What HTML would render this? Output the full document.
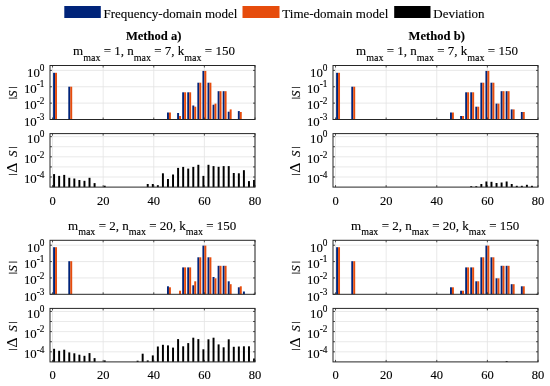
<!DOCTYPE html>
<html><head><meta charset="utf-8"><style>html,body{margin:0;padding:0;background:#fff;overflow:hidden}svg{display:block}</style></head>
<body>
<svg width="550" height="386" viewBox="0 0 550 386" font-family='"Liberation Serif", "DejaVu Serif", serif' fill="#000">
<rect width="550" height="386" fill="#fff"/>
<style>text{stroke:#000;stroke-width:0.12px;paint-order:stroke}</style>
<rect x="64.3" y="6" width="36.5" height="12" fill="#00247a"/>
<text x="103.5" y="17.5" font-size="13">Frequency-domain model</text>
<rect x="242.5" y="6" width="37" height="12" fill="#e64c0c"/>
<text x="282.3" y="17.5" font-size="13">Time-domain model</text>
<rect x="394.2" y="6" width="36.3" height="12" fill="#000"/>
<text x="433.3" y="17.5" font-size="13">Deviation</text>
<text x="153.7" y="40" font-size="12.6" text-anchor="middle" font-weight="bold">Method a)</text>
<text x="154" y="55.2" font-size="13" text-anchor="middle">m<tspan dy="5.3" font-size="10">max</tspan><tspan dy="-5.3"> = 1, n</tspan><tspan dy="5.3" font-size="10">max</tspan><tspan dy="-5.3"> = 7, k</tspan><tspan dy="5.3" font-size="10">max</tspan><tspan dy="-5.3"> = 150</tspan></text>
<line x1="52.53" y1="65.5" x2="52.53" y2="119.5" stroke="#e3e3e3" stroke-width="0.8"/>
<line x1="103.15" y1="65.5" x2="103.15" y2="119.5" stroke="#e3e3e3" stroke-width="0.8"/>
<line x1="153.77" y1="65.5" x2="153.77" y2="119.5" stroke="#e3e3e3" stroke-width="0.8"/>
<line x1="204.38" y1="65.5" x2="204.38" y2="119.5" stroke="#e3e3e3" stroke-width="0.8"/>
<line x1="255" y1="65.5" x2="255" y2="119.5" stroke="#e3e3e3" stroke-width="0.8"/>
<line x1="50" y1="70.42" x2="255" y2="70.42" stroke="#e3e3e3" stroke-width="0.8"/>
<line x1="50" y1="86.78" x2="255" y2="86.78" stroke="#e3e3e3" stroke-width="0.8"/>
<line x1="50" y1="103.14" x2="255" y2="103.14" stroke="#e3e3e3" stroke-width="0.8"/>
<rect x="53.11" y="72.8" width="1.95" height="46.7" fill="#00247a"/>
<rect x="55.06" y="72.8" width="1.95" height="46.7" fill="#e64c0c"/>
<rect x="68.3" y="86.7" width="1.95" height="32.8" fill="#00247a"/>
<rect x="70.25" y="86.7" width="1.95" height="32.8" fill="#e64c0c"/>
<rect x="167" y="112.5" width="1.95" height="7" fill="#00247a"/>
<rect x="168.95" y="112.5" width="1.95" height="7" fill="#e64c0c"/>
<rect x="177.12" y="113" width="1.95" height="6.5" fill="#00247a"/>
<rect x="179.07" y="116" width="1.95" height="3.5" fill="#e64c0c"/>
<rect x="182.19" y="92.3" width="1.95" height="27.2" fill="#00247a"/>
<rect x="184.14" y="92.3" width="1.95" height="27.2" fill="#e64c0c"/>
<rect x="187.25" y="92.3" width="1.95" height="27.2" fill="#00247a"/>
<rect x="189.2" y="92.3" width="1.95" height="27.2" fill="#e64c0c"/>
<rect x="192.31" y="105.5" width="1.95" height="14" fill="#00247a"/>
<rect x="194.26" y="106.7" width="1.95" height="12.8" fill="#e64c0c"/>
<rect x="197.37" y="82.7" width="1.95" height="36.8" fill="#00247a"/>
<rect x="199.32" y="82.7" width="1.95" height="36.8" fill="#e64c0c"/>
<rect x="202.43" y="70.9" width="1.95" height="48.6" fill="#00247a"/>
<rect x="204.38" y="70.9" width="1.95" height="48.6" fill="#e64c0c"/>
<rect x="207.49" y="82.7" width="1.95" height="36.8" fill="#00247a"/>
<rect x="209.44" y="82.7" width="1.95" height="36.8" fill="#e64c0c"/>
<rect x="212.56" y="104.7" width="1.95" height="14.8" fill="#00247a"/>
<rect x="214.51" y="103.6" width="1.95" height="15.9" fill="#e64c0c"/>
<rect x="217.62" y="91.2" width="1.95" height="28.3" fill="#00247a"/>
<rect x="219.57" y="91.2" width="1.95" height="28.3" fill="#e64c0c"/>
<rect x="222.68" y="91.2" width="1.95" height="28.3" fill="#00247a"/>
<rect x="224.63" y="91.2" width="1.95" height="28.3" fill="#e64c0c"/>
<rect x="227.74" y="111.7" width="1.95" height="7.8" fill="#00247a"/>
<rect x="229.69" y="109.4" width="1.95" height="10.1" fill="#e64c0c"/>
<rect x="237.86" y="111.1" width="1.95" height="8.4" fill="#00247a"/>
<rect x="239.81" y="112" width="1.95" height="7.5" fill="#e64c0c"/>
<rect x="50" y="65.5" width="205" height="54" fill="none" stroke="#262626" stroke-width="1.0"/>
<line x1="52.53" y1="119.5" x2="52.53" y2="117.5" stroke="#262626" stroke-width="0.8"/>
<line x1="52.53" y1="65.5" x2="52.53" y2="67.5" stroke="#262626" stroke-width="0.8"/>
<line x1="103.15" y1="119.5" x2="103.15" y2="117.5" stroke="#262626" stroke-width="0.8"/>
<line x1="103.15" y1="65.5" x2="103.15" y2="67.5" stroke="#262626" stroke-width="0.8"/>
<line x1="153.77" y1="119.5" x2="153.77" y2="117.5" stroke="#262626" stroke-width="0.8"/>
<line x1="153.77" y1="65.5" x2="153.77" y2="67.5" stroke="#262626" stroke-width="0.8"/>
<line x1="204.38" y1="119.5" x2="204.38" y2="117.5" stroke="#262626" stroke-width="0.8"/>
<line x1="204.38" y1="65.5" x2="204.38" y2="67.5" stroke="#262626" stroke-width="0.8"/>
<line x1="255" y1="119.5" x2="255" y2="117.5" stroke="#262626" stroke-width="0.8"/>
<line x1="255" y1="65.5" x2="255" y2="67.5" stroke="#262626" stroke-width="0.8"/>
<line x1="50" y1="70.42" x2="52.0" y2="70.42" stroke="#262626" stroke-width="0.8"/>
<line x1="255" y1="70.42" x2="253.0" y2="70.42" stroke="#262626" stroke-width="0.8"/>
<line x1="50" y1="86.78" x2="52.0" y2="86.78" stroke="#262626" stroke-width="0.8"/>
<line x1="255" y1="86.78" x2="253.0" y2="86.78" stroke="#262626" stroke-width="0.8"/>
<line x1="50" y1="103.14" x2="52.0" y2="103.14" stroke="#262626" stroke-width="0.8"/>
<line x1="255" y1="103.14" x2="253.0" y2="103.14" stroke="#262626" stroke-width="0.8"/>
<line x1="50" y1="119.5" x2="52.0" y2="119.5" stroke="#262626" stroke-width="0.8"/>
<line x1="255" y1="119.5" x2="253.0" y2="119.5" stroke="#262626" stroke-width="0.8"/>
<text x="44.5" y="76.72" font-size="12.8" text-anchor="end">10<tspan dy="-5.6" font-size="9.3">0</tspan></text>
<text x="44.5" y="93.08" font-size="12.8" text-anchor="end">10<tspan dy="-5.6" font-size="9.3">-1</tspan></text>
<text x="44.5" y="109.44" font-size="12.8" text-anchor="end">10<tspan dy="-5.6" font-size="9.3">-2</tspan></text>
<text x="44.5" y="125.8" font-size="12.8" text-anchor="end">10<tspan dy="-5.6" font-size="9.3">-3</tspan></text>
<text transform="translate(17,100) rotate(-90)" x="0.9" y="-2.2" font-size="9" style="stroke-width:0.4px">|</text>
<text transform="translate(17,100) rotate(-90)" x="3.1" y="0" font-size="13" font-style="italic">S</text>
<text transform="translate(17,100) rotate(-90)" x="11.7" y="-2.2" font-size="9" style="stroke-width:0.4px">|</text>
<line x1="52.53" y1="133.6" x2="52.53" y2="187.1" stroke="#e3e3e3" stroke-width="0.8"/>
<line x1="103.15" y1="133.6" x2="103.15" y2="187.1" stroke="#e3e3e3" stroke-width="0.8"/>
<line x1="153.77" y1="133.6" x2="153.77" y2="187.1" stroke="#e3e3e3" stroke-width="0.8"/>
<line x1="204.38" y1="133.6" x2="204.38" y2="187.1" stroke="#e3e3e3" stroke-width="0.8"/>
<line x1="255" y1="133.6" x2="255" y2="187.1" stroke="#e3e3e3" stroke-width="0.8"/>
<line x1="50" y1="136.64" x2="255" y2="136.64" stroke="#e3e3e3" stroke-width="0.8"/>
<line x1="50" y1="146.73" x2="255" y2="146.73" stroke="#e3e3e3" stroke-width="0.8"/>
<line x1="50" y1="156.82" x2="255" y2="156.82" stroke="#e3e3e3" stroke-width="0.8"/>
<line x1="50" y1="166.92" x2="255" y2="166.92" stroke="#e3e3e3" stroke-width="0.8"/>
<line x1="50" y1="177.01" x2="255" y2="177.01" stroke="#e3e3e3" stroke-width="0.8"/>
<rect x="53.11" y="174.1" width="1.95" height="13" fill="#000"/>
<rect x="58.17" y="175.9" width="1.95" height="11.2" fill="#000"/>
<rect x="63.24" y="174.9" width="1.95" height="12.2" fill="#000"/>
<rect x="68.3" y="177.8" width="1.95" height="9.3" fill="#000"/>
<rect x="73.36" y="178.5" width="1.95" height="8.6" fill="#000"/>
<rect x="78.42" y="180" width="1.95" height="7.1" fill="#000"/>
<rect x="83.48" y="180.8" width="1.95" height="6.3" fill="#000"/>
<rect x="88.54" y="177.8" width="1.95" height="9.3" fill="#000"/>
<rect x="93.61" y="183.1" width="1.95" height="4" fill="#000"/>
<rect x="103.73" y="185.7" width="1.95" height="1.4" fill="#000"/>
<rect x="146.75" y="184" width="1.95" height="3.1" fill="#000"/>
<rect x="151.82" y="184" width="1.95" height="3.1" fill="#000"/>
<rect x="156.88" y="185.2" width="1.95" height="1.9" fill="#000"/>
<rect x="161.94" y="173.3" width="1.95" height="13.8" fill="#000"/>
<rect x="167" y="179" width="1.95" height="8.1" fill="#000"/>
<rect x="172.06" y="174.5" width="1.95" height="12.6" fill="#000"/>
<rect x="177.12" y="167.9" width="1.95" height="19.2" fill="#000"/>
<rect x="182.19" y="166.9" width="1.95" height="20.2" fill="#000"/>
<rect x="187.25" y="168.6" width="1.95" height="18.5" fill="#000"/>
<rect x="192.31" y="166.9" width="1.95" height="20.2" fill="#000"/>
<rect x="197.37" y="164.8" width="1.95" height="22.3" fill="#000"/>
<rect x="202.43" y="175.9" width="1.95" height="11.2" fill="#000"/>
<rect x="207.49" y="164.8" width="1.95" height="22.3" fill="#000"/>
<rect x="212.56" y="166.1" width="1.95" height="21" fill="#000"/>
<rect x="217.62" y="166.8" width="1.95" height="20.3" fill="#000"/>
<rect x="222.68" y="166.1" width="1.95" height="21" fill="#000"/>
<rect x="227.74" y="166.1" width="1.95" height="21" fill="#000"/>
<rect x="232.8" y="173" width="1.95" height="14.1" fill="#000"/>
<rect x="237.86" y="173.3" width="1.95" height="13.8" fill="#000"/>
<rect x="242.93" y="170.2" width="1.95" height="16.9" fill="#000"/>
<rect x="247.99" y="181.1" width="1.95" height="6" fill="#000"/>
<rect x="253.05" y="180" width="1.95" height="7.1" fill="#000"/>
<rect x="50" y="133.6" width="205" height="53.5" fill="none" stroke="#262626" stroke-width="1.0"/>
<line x1="52.53" y1="187.1" x2="52.53" y2="185.1" stroke="#262626" stroke-width="0.8"/>
<line x1="52.53" y1="133.6" x2="52.53" y2="135.6" stroke="#262626" stroke-width="0.8"/>
<line x1="103.15" y1="187.1" x2="103.15" y2="185.1" stroke="#262626" stroke-width="0.8"/>
<line x1="103.15" y1="133.6" x2="103.15" y2="135.6" stroke="#262626" stroke-width="0.8"/>
<line x1="153.77" y1="187.1" x2="153.77" y2="185.1" stroke="#262626" stroke-width="0.8"/>
<line x1="153.77" y1="133.6" x2="153.77" y2="135.6" stroke="#262626" stroke-width="0.8"/>
<line x1="204.38" y1="187.1" x2="204.38" y2="185.1" stroke="#262626" stroke-width="0.8"/>
<line x1="204.38" y1="133.6" x2="204.38" y2="135.6" stroke="#262626" stroke-width="0.8"/>
<line x1="255" y1="187.1" x2="255" y2="185.1" stroke="#262626" stroke-width="0.8"/>
<line x1="255" y1="133.6" x2="255" y2="135.6" stroke="#262626" stroke-width="0.8"/>
<line x1="50" y1="136.64" x2="52.0" y2="136.64" stroke="#262626" stroke-width="0.8"/>
<line x1="255" y1="136.64" x2="253.0" y2="136.64" stroke="#262626" stroke-width="0.8"/>
<line x1="50" y1="146.73" x2="52.0" y2="146.73" stroke="#262626" stroke-width="0.8"/>
<line x1="255" y1="146.73" x2="253.0" y2="146.73" stroke="#262626" stroke-width="0.8"/>
<line x1="50" y1="156.82" x2="52.0" y2="156.82" stroke="#262626" stroke-width="0.8"/>
<line x1="255" y1="156.82" x2="253.0" y2="156.82" stroke="#262626" stroke-width="0.8"/>
<line x1="50" y1="166.92" x2="52.0" y2="166.92" stroke="#262626" stroke-width="0.8"/>
<line x1="255" y1="166.92" x2="253.0" y2="166.92" stroke="#262626" stroke-width="0.8"/>
<line x1="50" y1="177.01" x2="52.0" y2="177.01" stroke="#262626" stroke-width="0.8"/>
<line x1="255" y1="177.01" x2="253.0" y2="177.01" stroke="#262626" stroke-width="0.8"/>
<text x="44.5" y="142.94" font-size="12.8" text-anchor="end">10<tspan dy="-5.6" font-size="9.3">0</tspan></text>
<text x="44.5" y="163.12" font-size="12.8" text-anchor="end">10<tspan dy="-5.6" font-size="9.3">-2</tspan></text>
<text x="44.5" y="183.31" font-size="12.8" text-anchor="end">10<tspan dy="-5.6" font-size="9.3">-4</tspan></text>
<text transform="translate(17,176) rotate(-90)" x="0.4" y="-2.2" font-size="9" style="stroke-width:0.4px">|</text>
<text transform="translate(17,176) rotate(-90)" x="3.2" y="0" font-size="15.5" style="stroke:none">Δ</text>
<text transform="translate(17,176) rotate(-90)" x="19" y="0" font-size="13" font-style="italic">S</text>
<text transform="translate(17,176) rotate(-90)" x="27.6" y="-2.2" font-size="9" style="stroke-width:0.4px">|</text>
<text x="52.53" y="204.6" font-size="12.5" text-anchor="middle">0</text>
<text x="103.15" y="204.6" font-size="12.5" text-anchor="middle">20</text>
<text x="153.77" y="204.6" font-size="12.5" text-anchor="middle">40</text>
<text x="204.38" y="204.6" font-size="12.5" text-anchor="middle">60</text>
<text x="255" y="204.6" font-size="12.5" text-anchor="middle">80</text>
<text x="436.7" y="40" font-size="12.6" text-anchor="middle" font-weight="bold">Method b)</text>
<text x="437" y="55.2" font-size="13" text-anchor="middle">m<tspan dy="5.3" font-size="10">max</tspan><tspan dy="-5.3"> = 1, n</tspan><tspan dy="5.3" font-size="10">max</tspan><tspan dy="-5.3"> = 7, k</tspan><tspan dy="5.3" font-size="10">max</tspan><tspan dy="-5.3"> = 150</tspan></text>
<line x1="335.53" y1="65.5" x2="335.53" y2="119.5" stroke="#e3e3e3" stroke-width="0.8"/>
<line x1="386.15" y1="65.5" x2="386.15" y2="119.5" stroke="#e3e3e3" stroke-width="0.8"/>
<line x1="436.77" y1="65.5" x2="436.77" y2="119.5" stroke="#e3e3e3" stroke-width="0.8"/>
<line x1="487.38" y1="65.5" x2="487.38" y2="119.5" stroke="#e3e3e3" stroke-width="0.8"/>
<line x1="538" y1="65.5" x2="538" y2="119.5" stroke="#e3e3e3" stroke-width="0.8"/>
<line x1="333" y1="70.42" x2="538" y2="70.42" stroke="#e3e3e3" stroke-width="0.8"/>
<line x1="333" y1="86.78" x2="538" y2="86.78" stroke="#e3e3e3" stroke-width="0.8"/>
<line x1="333" y1="103.14" x2="538" y2="103.14" stroke="#e3e3e3" stroke-width="0.8"/>
<rect x="336.11" y="72.8" width="1.95" height="46.7" fill="#00247a"/>
<rect x="338.06" y="72.8" width="1.95" height="46.7" fill="#e64c0c"/>
<rect x="351.3" y="86.7" width="1.95" height="32.8" fill="#00247a"/>
<rect x="353.25" y="86.7" width="1.95" height="32.8" fill="#e64c0c"/>
<rect x="450" y="112.5" width="1.95" height="7" fill="#00247a"/>
<rect x="451.95" y="112.5" width="1.95" height="7" fill="#e64c0c"/>
<rect x="460.12" y="116" width="1.95" height="3.5" fill="#00247a"/>
<rect x="462.07" y="116" width="1.95" height="3.5" fill="#e64c0c"/>
<rect x="465.19" y="92.3" width="1.95" height="27.2" fill="#00247a"/>
<rect x="467.14" y="92.3" width="1.95" height="27.2" fill="#e64c0c"/>
<rect x="470.25" y="92.3" width="1.95" height="27.2" fill="#00247a"/>
<rect x="472.2" y="92.3" width="1.95" height="27.2" fill="#e64c0c"/>
<rect x="475.31" y="106.7" width="1.95" height="12.8" fill="#00247a"/>
<rect x="477.26" y="106.7" width="1.95" height="12.8" fill="#e64c0c"/>
<rect x="480.37" y="82.7" width="1.95" height="36.8" fill="#00247a"/>
<rect x="482.32" y="82.7" width="1.95" height="36.8" fill="#e64c0c"/>
<rect x="485.43" y="70.9" width="1.95" height="48.6" fill="#00247a"/>
<rect x="487.38" y="70.9" width="1.95" height="48.6" fill="#e64c0c"/>
<rect x="490.49" y="82.7" width="1.95" height="36.8" fill="#00247a"/>
<rect x="492.44" y="82.7" width="1.95" height="36.8" fill="#e64c0c"/>
<rect x="495.56" y="103.6" width="1.95" height="15.9" fill="#00247a"/>
<rect x="497.51" y="103.6" width="1.95" height="15.9" fill="#e64c0c"/>
<rect x="500.62" y="91.2" width="1.95" height="28.3" fill="#00247a"/>
<rect x="502.57" y="91.2" width="1.95" height="28.3" fill="#e64c0c"/>
<rect x="505.68" y="91.2" width="1.95" height="28.3" fill="#00247a"/>
<rect x="507.63" y="91.2" width="1.95" height="28.3" fill="#e64c0c"/>
<rect x="510.74" y="109.4" width="1.95" height="10.1" fill="#00247a"/>
<rect x="512.69" y="109.4" width="1.95" height="10.1" fill="#e64c0c"/>
<rect x="520.86" y="112" width="1.95" height="7.5" fill="#00247a"/>
<rect x="522.81" y="112" width="1.95" height="7.5" fill="#e64c0c"/>
<rect x="333" y="65.5" width="205" height="54" fill="none" stroke="#262626" stroke-width="1.0"/>
<line x1="335.53" y1="119.5" x2="335.53" y2="117.5" stroke="#262626" stroke-width="0.8"/>
<line x1="335.53" y1="65.5" x2="335.53" y2="67.5" stroke="#262626" stroke-width="0.8"/>
<line x1="386.15" y1="119.5" x2="386.15" y2="117.5" stroke="#262626" stroke-width="0.8"/>
<line x1="386.15" y1="65.5" x2="386.15" y2="67.5" stroke="#262626" stroke-width="0.8"/>
<line x1="436.77" y1="119.5" x2="436.77" y2="117.5" stroke="#262626" stroke-width="0.8"/>
<line x1="436.77" y1="65.5" x2="436.77" y2="67.5" stroke="#262626" stroke-width="0.8"/>
<line x1="487.38" y1="119.5" x2="487.38" y2="117.5" stroke="#262626" stroke-width="0.8"/>
<line x1="487.38" y1="65.5" x2="487.38" y2="67.5" stroke="#262626" stroke-width="0.8"/>
<line x1="538" y1="119.5" x2="538" y2="117.5" stroke="#262626" stroke-width="0.8"/>
<line x1="538" y1="65.5" x2="538" y2="67.5" stroke="#262626" stroke-width="0.8"/>
<line x1="333" y1="70.42" x2="335.0" y2="70.42" stroke="#262626" stroke-width="0.8"/>
<line x1="538" y1="70.42" x2="536.0" y2="70.42" stroke="#262626" stroke-width="0.8"/>
<line x1="333" y1="86.78" x2="335.0" y2="86.78" stroke="#262626" stroke-width="0.8"/>
<line x1="538" y1="86.78" x2="536.0" y2="86.78" stroke="#262626" stroke-width="0.8"/>
<line x1="333" y1="103.14" x2="335.0" y2="103.14" stroke="#262626" stroke-width="0.8"/>
<line x1="538" y1="103.14" x2="536.0" y2="103.14" stroke="#262626" stroke-width="0.8"/>
<line x1="333" y1="119.5" x2="335.0" y2="119.5" stroke="#262626" stroke-width="0.8"/>
<line x1="538" y1="119.5" x2="536.0" y2="119.5" stroke="#262626" stroke-width="0.8"/>
<text x="327.5" y="76.72" font-size="12.8" text-anchor="end">10<tspan dy="-5.6" font-size="9.3">0</tspan></text>
<text x="327.5" y="93.08" font-size="12.8" text-anchor="end">10<tspan dy="-5.6" font-size="9.3">-1</tspan></text>
<text x="327.5" y="109.44" font-size="12.8" text-anchor="end">10<tspan dy="-5.6" font-size="9.3">-2</tspan></text>
<text x="327.5" y="125.8" font-size="12.8" text-anchor="end">10<tspan dy="-5.6" font-size="9.3">-3</tspan></text>
<text transform="translate(300,100) rotate(-90)" x="0.9" y="-2.2" font-size="9" style="stroke-width:0.4px">|</text>
<text transform="translate(300,100) rotate(-90)" x="3.1" y="0" font-size="13" font-style="italic">S</text>
<text transform="translate(300,100) rotate(-90)" x="11.7" y="-2.2" font-size="9" style="stroke-width:0.4px">|</text>
<line x1="335.53" y1="133.6" x2="335.53" y2="187.1" stroke="#e3e3e3" stroke-width="0.8"/>
<line x1="386.15" y1="133.6" x2="386.15" y2="187.1" stroke="#e3e3e3" stroke-width="0.8"/>
<line x1="436.77" y1="133.6" x2="436.77" y2="187.1" stroke="#e3e3e3" stroke-width="0.8"/>
<line x1="487.38" y1="133.6" x2="487.38" y2="187.1" stroke="#e3e3e3" stroke-width="0.8"/>
<line x1="538" y1="133.6" x2="538" y2="187.1" stroke="#e3e3e3" stroke-width="0.8"/>
<line x1="333" y1="136.64" x2="538" y2="136.64" stroke="#e3e3e3" stroke-width="0.8"/>
<line x1="333" y1="146.73" x2="538" y2="146.73" stroke="#e3e3e3" stroke-width="0.8"/>
<line x1="333" y1="156.82" x2="538" y2="156.82" stroke="#e3e3e3" stroke-width="0.8"/>
<line x1="333" y1="166.92" x2="538" y2="166.92" stroke="#e3e3e3" stroke-width="0.8"/>
<line x1="333" y1="177.01" x2="538" y2="177.01" stroke="#e3e3e3" stroke-width="0.8"/>
<rect x="470.25" y="186.2" width="1.95" height="0.9" fill="#000"/>
<rect x="475.31" y="186.2" width="1.95" height="0.9" fill="#000"/>
<rect x="480.37" y="184" width="1.95" height="3.1" fill="#000"/>
<rect x="485.43" y="181.5" width="1.95" height="5.6" fill="#000"/>
<rect x="490.49" y="181.8" width="1.95" height="5.3" fill="#000"/>
<rect x="495.56" y="183" width="1.95" height="4.1" fill="#000"/>
<rect x="500.62" y="182.5" width="1.95" height="4.6" fill="#000"/>
<rect x="505.68" y="181.5" width="1.95" height="5.6" fill="#000"/>
<rect x="510.74" y="184" width="1.95" height="3.1" fill="#000"/>
<rect x="515.8" y="185.8" width="1.95" height="1.3" fill="#000"/>
<rect x="520.86" y="185.8" width="1.95" height="1.3" fill="#000"/>
<rect x="525.93" y="184.8" width="1.95" height="2.3" fill="#000"/>
<rect x="530.99" y="185.8" width="1.95" height="1.3" fill="#000"/>
<rect x="333" y="133.6" width="205" height="53.5" fill="none" stroke="#262626" stroke-width="1.0"/>
<line x1="335.53" y1="187.1" x2="335.53" y2="185.1" stroke="#262626" stroke-width="0.8"/>
<line x1="335.53" y1="133.6" x2="335.53" y2="135.6" stroke="#262626" stroke-width="0.8"/>
<line x1="386.15" y1="187.1" x2="386.15" y2="185.1" stroke="#262626" stroke-width="0.8"/>
<line x1="386.15" y1="133.6" x2="386.15" y2="135.6" stroke="#262626" stroke-width="0.8"/>
<line x1="436.77" y1="187.1" x2="436.77" y2="185.1" stroke="#262626" stroke-width="0.8"/>
<line x1="436.77" y1="133.6" x2="436.77" y2="135.6" stroke="#262626" stroke-width="0.8"/>
<line x1="487.38" y1="187.1" x2="487.38" y2="185.1" stroke="#262626" stroke-width="0.8"/>
<line x1="487.38" y1="133.6" x2="487.38" y2="135.6" stroke="#262626" stroke-width="0.8"/>
<line x1="538" y1="187.1" x2="538" y2="185.1" stroke="#262626" stroke-width="0.8"/>
<line x1="538" y1="133.6" x2="538" y2="135.6" stroke="#262626" stroke-width="0.8"/>
<line x1="333" y1="136.64" x2="335.0" y2="136.64" stroke="#262626" stroke-width="0.8"/>
<line x1="538" y1="136.64" x2="536.0" y2="136.64" stroke="#262626" stroke-width="0.8"/>
<line x1="333" y1="146.73" x2="335.0" y2="146.73" stroke="#262626" stroke-width="0.8"/>
<line x1="538" y1="146.73" x2="536.0" y2="146.73" stroke="#262626" stroke-width="0.8"/>
<line x1="333" y1="156.82" x2="335.0" y2="156.82" stroke="#262626" stroke-width="0.8"/>
<line x1="538" y1="156.82" x2="536.0" y2="156.82" stroke="#262626" stroke-width="0.8"/>
<line x1="333" y1="166.92" x2="335.0" y2="166.92" stroke="#262626" stroke-width="0.8"/>
<line x1="538" y1="166.92" x2="536.0" y2="166.92" stroke="#262626" stroke-width="0.8"/>
<line x1="333" y1="177.01" x2="335.0" y2="177.01" stroke="#262626" stroke-width="0.8"/>
<line x1="538" y1="177.01" x2="536.0" y2="177.01" stroke="#262626" stroke-width="0.8"/>
<text x="327.5" y="142.94" font-size="12.8" text-anchor="end">10<tspan dy="-5.6" font-size="9.3">0</tspan></text>
<text x="327.5" y="163.12" font-size="12.8" text-anchor="end">10<tspan dy="-5.6" font-size="9.3">-2</tspan></text>
<text x="327.5" y="183.31" font-size="12.8" text-anchor="end">10<tspan dy="-5.6" font-size="9.3">-4</tspan></text>
<text transform="translate(300,176) rotate(-90)" x="0.4" y="-2.2" font-size="9" style="stroke-width:0.4px">|</text>
<text transform="translate(300,176) rotate(-90)" x="3.2" y="0" font-size="15.5" style="stroke:none">Δ</text>
<text transform="translate(300,176) rotate(-90)" x="19" y="0" font-size="13" font-style="italic">S</text>
<text transform="translate(300,176) rotate(-90)" x="27.6" y="-2.2" font-size="9" style="stroke-width:0.4px">|</text>
<text x="335.53" y="204.6" font-size="12.5" text-anchor="middle">0</text>
<text x="386.15" y="204.6" font-size="12.5" text-anchor="middle">20</text>
<text x="436.77" y="204.6" font-size="12.5" text-anchor="middle">40</text>
<text x="487.38" y="204.6" font-size="12.5" text-anchor="middle">60</text>
<text x="538" y="204.6" font-size="12.5" text-anchor="middle">80</text>
<text x="152.2" y="230" font-size="13" text-anchor="middle">m<tspan dy="5.3" font-size="10">max</tspan><tspan dy="-5.3"> = 2, n</tspan><tspan dy="5.3" font-size="10">max</tspan><tspan dy="-5.3"> = 20, k</tspan><tspan dy="5.3" font-size="10">max</tspan><tspan dy="-5.3"> = 150</tspan></text>
<line x1="52.53" y1="240.3" x2="52.53" y2="294.3" stroke="#e3e3e3" stroke-width="0.8"/>
<line x1="103.15" y1="240.3" x2="103.15" y2="294.3" stroke="#e3e3e3" stroke-width="0.8"/>
<line x1="153.77" y1="240.3" x2="153.77" y2="294.3" stroke="#e3e3e3" stroke-width="0.8"/>
<line x1="204.38" y1="240.3" x2="204.38" y2="294.3" stroke="#e3e3e3" stroke-width="0.8"/>
<line x1="255" y1="240.3" x2="255" y2="294.3" stroke="#e3e3e3" stroke-width="0.8"/>
<line x1="50" y1="245.22" x2="255" y2="245.22" stroke="#e3e3e3" stroke-width="0.8"/>
<line x1="50" y1="261.58" x2="255" y2="261.58" stroke="#e3e3e3" stroke-width="0.8"/>
<line x1="50" y1="277.94" x2="255" y2="277.94" stroke="#e3e3e3" stroke-width="0.8"/>
<rect x="53.11" y="247.2" width="1.95" height="47.1" fill="#00247a"/>
<rect x="55.06" y="247.2" width="1.95" height="47.1" fill="#e64c0c"/>
<rect x="68.3" y="261.2" width="1.95" height="33.1" fill="#00247a"/>
<rect x="70.25" y="261.2" width="1.95" height="33.1" fill="#e64c0c"/>
<rect x="167" y="286.3" width="1.95" height="8" fill="#00247a"/>
<rect x="168.95" y="287.3" width="1.95" height="7" fill="#e64c0c"/>
<rect x="179.07" y="290.7" width="1.95" height="3.6" fill="#e64c0c"/>
<rect x="182.19" y="267.4" width="1.95" height="26.9" fill="#00247a"/>
<rect x="184.14" y="267.4" width="1.95" height="26.9" fill="#e64c0c"/>
<rect x="187.25" y="267.4" width="1.95" height="26.9" fill="#00247a"/>
<rect x="189.2" y="267.4" width="1.95" height="26.9" fill="#e64c0c"/>
<rect x="192.31" y="285.3" width="1.95" height="9" fill="#00247a"/>
<rect x="194.26" y="281.3" width="1.95" height="13" fill="#e64c0c"/>
<rect x="197.37" y="257.3" width="1.95" height="37" fill="#00247a"/>
<rect x="199.32" y="257.3" width="1.95" height="37" fill="#e64c0c"/>
<rect x="202.43" y="245.6" width="1.95" height="48.7" fill="#00247a"/>
<rect x="204.38" y="245.6" width="1.95" height="48.7" fill="#e64c0c"/>
<rect x="207.49" y="257.3" width="1.95" height="37" fill="#00247a"/>
<rect x="209.44" y="257.3" width="1.95" height="37" fill="#e64c0c"/>
<rect x="212.56" y="277" width="1.95" height="17.3" fill="#00247a"/>
<rect x="214.51" y="278.3" width="1.95" height="16" fill="#e64c0c"/>
<rect x="217.62" y="265.8" width="1.95" height="28.5" fill="#00247a"/>
<rect x="219.57" y="265.8" width="1.95" height="28.5" fill="#e64c0c"/>
<rect x="222.68" y="265.8" width="1.95" height="28.5" fill="#00247a"/>
<rect x="224.63" y="265.8" width="1.95" height="28.5" fill="#e64c0c"/>
<rect x="227.74" y="281.3" width="1.95" height="13" fill="#00247a"/>
<rect x="229.69" y="284.2" width="1.95" height="10.1" fill="#e64c0c"/>
<rect x="237.86" y="287.3" width="1.95" height="7" fill="#00247a"/>
<rect x="239.81" y="286.3" width="1.95" height="8" fill="#e64c0c"/>
<rect x="242.93" y="291.5" width="1.95" height="2.8" fill="#00247a"/>
<rect x="50" y="240.3" width="205" height="54" fill="none" stroke="#262626" stroke-width="1.0"/>
<line x1="52.53" y1="294.3" x2="52.53" y2="292.3" stroke="#262626" stroke-width="0.8"/>
<line x1="52.53" y1="240.3" x2="52.53" y2="242.3" stroke="#262626" stroke-width="0.8"/>
<line x1="103.15" y1="294.3" x2="103.15" y2="292.3" stroke="#262626" stroke-width="0.8"/>
<line x1="103.15" y1="240.3" x2="103.15" y2="242.3" stroke="#262626" stroke-width="0.8"/>
<line x1="153.77" y1="294.3" x2="153.77" y2="292.3" stroke="#262626" stroke-width="0.8"/>
<line x1="153.77" y1="240.3" x2="153.77" y2="242.3" stroke="#262626" stroke-width="0.8"/>
<line x1="204.38" y1="294.3" x2="204.38" y2="292.3" stroke="#262626" stroke-width="0.8"/>
<line x1="204.38" y1="240.3" x2="204.38" y2="242.3" stroke="#262626" stroke-width="0.8"/>
<line x1="255" y1="294.3" x2="255" y2="292.3" stroke="#262626" stroke-width="0.8"/>
<line x1="255" y1="240.3" x2="255" y2="242.3" stroke="#262626" stroke-width="0.8"/>
<line x1="50" y1="245.22" x2="52.0" y2="245.22" stroke="#262626" stroke-width="0.8"/>
<line x1="255" y1="245.22" x2="253.0" y2="245.22" stroke="#262626" stroke-width="0.8"/>
<line x1="50" y1="261.58" x2="52.0" y2="261.58" stroke="#262626" stroke-width="0.8"/>
<line x1="255" y1="261.58" x2="253.0" y2="261.58" stroke="#262626" stroke-width="0.8"/>
<line x1="50" y1="277.94" x2="52.0" y2="277.94" stroke="#262626" stroke-width="0.8"/>
<line x1="255" y1="277.94" x2="253.0" y2="277.94" stroke="#262626" stroke-width="0.8"/>
<line x1="50" y1="294.3" x2="52.0" y2="294.3" stroke="#262626" stroke-width="0.8"/>
<line x1="255" y1="294.3" x2="253.0" y2="294.3" stroke="#262626" stroke-width="0.8"/>
<text x="44.5" y="251.52" font-size="12.8" text-anchor="end">10<tspan dy="-5.6" font-size="9.3">0</tspan></text>
<text x="44.5" y="267.88" font-size="12.8" text-anchor="end">10<tspan dy="-5.6" font-size="9.3">-1</tspan></text>
<text x="44.5" y="284.24" font-size="12.8" text-anchor="end">10<tspan dy="-5.6" font-size="9.3">-2</tspan></text>
<text x="44.5" y="300.6" font-size="12.8" text-anchor="end">10<tspan dy="-5.6" font-size="9.3">-3</tspan></text>
<text transform="translate(17,274.8) rotate(-90)" x="0.9" y="-2.2" font-size="9" style="stroke-width:0.4px">|</text>
<text transform="translate(17,274.8) rotate(-90)" x="3.1" y="0" font-size="13" font-style="italic">S</text>
<text transform="translate(17,274.8) rotate(-90)" x="11.7" y="-2.2" font-size="9" style="stroke-width:0.4px">|</text>
<line x1="52.53" y1="308.4" x2="52.53" y2="361.9" stroke="#e3e3e3" stroke-width="0.8"/>
<line x1="103.15" y1="308.4" x2="103.15" y2="361.9" stroke="#e3e3e3" stroke-width="0.8"/>
<line x1="153.77" y1="308.4" x2="153.77" y2="361.9" stroke="#e3e3e3" stroke-width="0.8"/>
<line x1="204.38" y1="308.4" x2="204.38" y2="361.9" stroke="#e3e3e3" stroke-width="0.8"/>
<line x1="255" y1="308.4" x2="255" y2="361.9" stroke="#e3e3e3" stroke-width="0.8"/>
<line x1="50" y1="311.44" x2="255" y2="311.44" stroke="#e3e3e3" stroke-width="0.8"/>
<line x1="50" y1="321.53" x2="255" y2="321.53" stroke="#e3e3e3" stroke-width="0.8"/>
<line x1="50" y1="331.62" x2="255" y2="331.62" stroke="#e3e3e3" stroke-width="0.8"/>
<line x1="50" y1="341.72" x2="255" y2="341.72" stroke="#e3e3e3" stroke-width="0.8"/>
<line x1="50" y1="351.81" x2="255" y2="351.81" stroke="#e3e3e3" stroke-width="0.8"/>
<rect x="53.11" y="348.8" width="1.95" height="13.1" fill="#000"/>
<rect x="58.17" y="350.8" width="1.95" height="11.1" fill="#000"/>
<rect x="63.24" y="349.7" width="1.95" height="12.2" fill="#000"/>
<rect x="68.3" y="352.4" width="1.95" height="9.5" fill="#000"/>
<rect x="73.36" y="353.3" width="1.95" height="8.6" fill="#000"/>
<rect x="78.42" y="354.7" width="1.95" height="7.2" fill="#000"/>
<rect x="83.48" y="355.8" width="1.95" height="6.1" fill="#000"/>
<rect x="88.54" y="353.1" width="1.95" height="8.8" fill="#000"/>
<rect x="93.61" y="358.1" width="1.95" height="3.8" fill="#000"/>
<rect x="103.73" y="360.4" width="1.95" height="1.5" fill="#000"/>
<rect x="136.63" y="360.7" width="1.95" height="1.2" fill="#000"/>
<rect x="141.69" y="353.7" width="1.95" height="8.2" fill="#000"/>
<rect x="146.75" y="360.4" width="1.95" height="1.5" fill="#000"/>
<rect x="151.82" y="355.4" width="1.95" height="6.5" fill="#000"/>
<rect x="156.88" y="346.5" width="1.95" height="15.4" fill="#000"/>
<rect x="161.94" y="344.8" width="1.95" height="17.1" fill="#000"/>
<rect x="167" y="345.4" width="1.95" height="16.5" fill="#000"/>
<rect x="172.06" y="347.6" width="1.95" height="14.3" fill="#000"/>
<rect x="177.12" y="339.1" width="1.95" height="22.8" fill="#000"/>
<rect x="182.19" y="346.3" width="1.95" height="15.6" fill="#000"/>
<rect x="187.25" y="343.1" width="1.95" height="18.8" fill="#000"/>
<rect x="192.31" y="337.7" width="1.95" height="24.2" fill="#000"/>
<rect x="197.37" y="339.1" width="1.95" height="22.8" fill="#000"/>
<rect x="202.43" y="349.3" width="1.95" height="12.6" fill="#000"/>
<rect x="207.49" y="339.3" width="1.95" height="22.6" fill="#000"/>
<rect x="212.56" y="337.7" width="1.95" height="24.2" fill="#000"/>
<rect x="217.62" y="344.4" width="1.95" height="17.5" fill="#000"/>
<rect x="222.68" y="347.3" width="1.95" height="14.6" fill="#000"/>
<rect x="227.74" y="339.3" width="1.95" height="22.6" fill="#000"/>
<rect x="232.8" y="346.8" width="1.95" height="15.1" fill="#000"/>
<rect x="237.86" y="346.5" width="1.95" height="15.4" fill="#000"/>
<rect x="242.93" y="346.3" width="1.95" height="15.6" fill="#000"/>
<rect x="247.99" y="346.3" width="1.95" height="15.6" fill="#000"/>
<rect x="253.05" y="358.5" width="1.95" height="3.4" fill="#000"/>
<rect x="50" y="308.4" width="205" height="53.5" fill="none" stroke="#262626" stroke-width="1.0"/>
<line x1="52.53" y1="361.9" x2="52.53" y2="359.9" stroke="#262626" stroke-width="0.8"/>
<line x1="52.53" y1="308.4" x2="52.53" y2="310.4" stroke="#262626" stroke-width="0.8"/>
<line x1="103.15" y1="361.9" x2="103.15" y2="359.9" stroke="#262626" stroke-width="0.8"/>
<line x1="103.15" y1="308.4" x2="103.15" y2="310.4" stroke="#262626" stroke-width="0.8"/>
<line x1="153.77" y1="361.9" x2="153.77" y2="359.9" stroke="#262626" stroke-width="0.8"/>
<line x1="153.77" y1="308.4" x2="153.77" y2="310.4" stroke="#262626" stroke-width="0.8"/>
<line x1="204.38" y1="361.9" x2="204.38" y2="359.9" stroke="#262626" stroke-width="0.8"/>
<line x1="204.38" y1="308.4" x2="204.38" y2="310.4" stroke="#262626" stroke-width="0.8"/>
<line x1="255" y1="361.9" x2="255" y2="359.9" stroke="#262626" stroke-width="0.8"/>
<line x1="255" y1="308.4" x2="255" y2="310.4" stroke="#262626" stroke-width="0.8"/>
<line x1="50" y1="311.44" x2="52.0" y2="311.44" stroke="#262626" stroke-width="0.8"/>
<line x1="255" y1="311.44" x2="253.0" y2="311.44" stroke="#262626" stroke-width="0.8"/>
<line x1="50" y1="321.53" x2="52.0" y2="321.53" stroke="#262626" stroke-width="0.8"/>
<line x1="255" y1="321.53" x2="253.0" y2="321.53" stroke="#262626" stroke-width="0.8"/>
<line x1="50" y1="331.62" x2="52.0" y2="331.62" stroke="#262626" stroke-width="0.8"/>
<line x1="255" y1="331.62" x2="253.0" y2="331.62" stroke="#262626" stroke-width="0.8"/>
<line x1="50" y1="341.72" x2="52.0" y2="341.72" stroke="#262626" stroke-width="0.8"/>
<line x1="255" y1="341.72" x2="253.0" y2="341.72" stroke="#262626" stroke-width="0.8"/>
<line x1="50" y1="351.81" x2="52.0" y2="351.81" stroke="#262626" stroke-width="0.8"/>
<line x1="255" y1="351.81" x2="253.0" y2="351.81" stroke="#262626" stroke-width="0.8"/>
<text x="44.5" y="317.74" font-size="12.8" text-anchor="end">10<tspan dy="-5.6" font-size="9.3">0</tspan></text>
<text x="44.5" y="337.92" font-size="12.8" text-anchor="end">10<tspan dy="-5.6" font-size="9.3">-2</tspan></text>
<text x="44.5" y="358.11" font-size="12.8" text-anchor="end">10<tspan dy="-5.6" font-size="9.3">-4</tspan></text>
<text transform="translate(17,350.8) rotate(-90)" x="0.4" y="-2.2" font-size="9" style="stroke-width:0.4px">|</text>
<text transform="translate(17,350.8) rotate(-90)" x="3.2" y="0" font-size="15.5" style="stroke:none">Δ</text>
<text transform="translate(17,350.8) rotate(-90)" x="19" y="0" font-size="13" font-style="italic">S</text>
<text transform="translate(17,350.8) rotate(-90)" x="27.6" y="-2.2" font-size="9" style="stroke-width:0.4px">|</text>
<text x="52.53" y="379.4" font-size="12.5" text-anchor="middle">0</text>
<text x="103.15" y="379.4" font-size="12.5" text-anchor="middle">20</text>
<text x="153.77" y="379.4" font-size="12.5" text-anchor="middle">40</text>
<text x="204.38" y="379.4" font-size="12.5" text-anchor="middle">60</text>
<text x="255" y="379.4" font-size="12.5" text-anchor="middle">80</text>
<text x="435.2" y="230" font-size="13" text-anchor="middle">m<tspan dy="5.3" font-size="10">max</tspan><tspan dy="-5.3"> = 2, n</tspan><tspan dy="5.3" font-size="10">max</tspan><tspan dy="-5.3"> = 20, k</tspan><tspan dy="5.3" font-size="10">max</tspan><tspan dy="-5.3"> = 150</tspan></text>
<line x1="335.53" y1="240.3" x2="335.53" y2="294.3" stroke="#e3e3e3" stroke-width="0.8"/>
<line x1="386.15" y1="240.3" x2="386.15" y2="294.3" stroke="#e3e3e3" stroke-width="0.8"/>
<line x1="436.77" y1="240.3" x2="436.77" y2="294.3" stroke="#e3e3e3" stroke-width="0.8"/>
<line x1="487.38" y1="240.3" x2="487.38" y2="294.3" stroke="#e3e3e3" stroke-width="0.8"/>
<line x1="538" y1="240.3" x2="538" y2="294.3" stroke="#e3e3e3" stroke-width="0.8"/>
<line x1="333" y1="245.22" x2="538" y2="245.22" stroke="#e3e3e3" stroke-width="0.8"/>
<line x1="333" y1="261.58" x2="538" y2="261.58" stroke="#e3e3e3" stroke-width="0.8"/>
<line x1="333" y1="277.94" x2="538" y2="277.94" stroke="#e3e3e3" stroke-width="0.8"/>
<rect x="336.11" y="247.2" width="1.95" height="47.1" fill="#00247a"/>
<rect x="338.06" y="247.2" width="1.95" height="47.1" fill="#e64c0c"/>
<rect x="351.3" y="261.2" width="1.95" height="33.1" fill="#00247a"/>
<rect x="353.25" y="261.2" width="1.95" height="33.1" fill="#e64c0c"/>
<rect x="450" y="287.3" width="1.95" height="7" fill="#00247a"/>
<rect x="451.95" y="287.3" width="1.95" height="7" fill="#e64c0c"/>
<rect x="460.12" y="290.7" width="1.95" height="3.6" fill="#00247a"/>
<rect x="462.07" y="290.7" width="1.95" height="3.6" fill="#e64c0c"/>
<rect x="465.19" y="267.4" width="1.95" height="26.9" fill="#00247a"/>
<rect x="467.14" y="267.4" width="1.95" height="26.9" fill="#e64c0c"/>
<rect x="470.25" y="267.4" width="1.95" height="26.9" fill="#00247a"/>
<rect x="472.2" y="267.4" width="1.95" height="26.9" fill="#e64c0c"/>
<rect x="475.31" y="281.3" width="1.95" height="13" fill="#00247a"/>
<rect x="477.26" y="281.3" width="1.95" height="13" fill="#e64c0c"/>
<rect x="480.37" y="257.3" width="1.95" height="37" fill="#00247a"/>
<rect x="482.32" y="257.3" width="1.95" height="37" fill="#e64c0c"/>
<rect x="485.43" y="245.6" width="1.95" height="48.7" fill="#00247a"/>
<rect x="487.38" y="245.6" width="1.95" height="48.7" fill="#e64c0c"/>
<rect x="490.49" y="257.3" width="1.95" height="37" fill="#00247a"/>
<rect x="492.44" y="257.3" width="1.95" height="37" fill="#e64c0c"/>
<rect x="495.56" y="278.3" width="1.95" height="16" fill="#00247a"/>
<rect x="497.51" y="278.3" width="1.95" height="16" fill="#e64c0c"/>
<rect x="500.62" y="265.8" width="1.95" height="28.5" fill="#00247a"/>
<rect x="502.57" y="265.8" width="1.95" height="28.5" fill="#e64c0c"/>
<rect x="505.68" y="265.8" width="1.95" height="28.5" fill="#00247a"/>
<rect x="507.63" y="265.8" width="1.95" height="28.5" fill="#e64c0c"/>
<rect x="510.74" y="284.2" width="1.95" height="10.1" fill="#00247a"/>
<rect x="512.69" y="284.2" width="1.95" height="10.1" fill="#e64c0c"/>
<rect x="520.86" y="286.3" width="1.95" height="8" fill="#00247a"/>
<rect x="522.81" y="286.3" width="1.95" height="8" fill="#e64c0c"/>
<rect x="333" y="240.3" width="205" height="54" fill="none" stroke="#262626" stroke-width="1.0"/>
<line x1="335.53" y1="294.3" x2="335.53" y2="292.3" stroke="#262626" stroke-width="0.8"/>
<line x1="335.53" y1="240.3" x2="335.53" y2="242.3" stroke="#262626" stroke-width="0.8"/>
<line x1="386.15" y1="294.3" x2="386.15" y2="292.3" stroke="#262626" stroke-width="0.8"/>
<line x1="386.15" y1="240.3" x2="386.15" y2="242.3" stroke="#262626" stroke-width="0.8"/>
<line x1="436.77" y1="294.3" x2="436.77" y2="292.3" stroke="#262626" stroke-width="0.8"/>
<line x1="436.77" y1="240.3" x2="436.77" y2="242.3" stroke="#262626" stroke-width="0.8"/>
<line x1="487.38" y1="294.3" x2="487.38" y2="292.3" stroke="#262626" stroke-width="0.8"/>
<line x1="487.38" y1="240.3" x2="487.38" y2="242.3" stroke="#262626" stroke-width="0.8"/>
<line x1="538" y1="294.3" x2="538" y2="292.3" stroke="#262626" stroke-width="0.8"/>
<line x1="538" y1="240.3" x2="538" y2="242.3" stroke="#262626" stroke-width="0.8"/>
<line x1="333" y1="245.22" x2="335.0" y2="245.22" stroke="#262626" stroke-width="0.8"/>
<line x1="538" y1="245.22" x2="536.0" y2="245.22" stroke="#262626" stroke-width="0.8"/>
<line x1="333" y1="261.58" x2="335.0" y2="261.58" stroke="#262626" stroke-width="0.8"/>
<line x1="538" y1="261.58" x2="536.0" y2="261.58" stroke="#262626" stroke-width="0.8"/>
<line x1="333" y1="277.94" x2="335.0" y2="277.94" stroke="#262626" stroke-width="0.8"/>
<line x1="538" y1="277.94" x2="536.0" y2="277.94" stroke="#262626" stroke-width="0.8"/>
<line x1="333" y1="294.3" x2="335.0" y2="294.3" stroke="#262626" stroke-width="0.8"/>
<line x1="538" y1="294.3" x2="536.0" y2="294.3" stroke="#262626" stroke-width="0.8"/>
<text x="327.5" y="251.52" font-size="12.8" text-anchor="end">10<tspan dy="-5.6" font-size="9.3">0</tspan></text>
<text x="327.5" y="267.88" font-size="12.8" text-anchor="end">10<tspan dy="-5.6" font-size="9.3">-1</tspan></text>
<text x="327.5" y="284.24" font-size="12.8" text-anchor="end">10<tspan dy="-5.6" font-size="9.3">-2</tspan></text>
<text x="327.5" y="300.6" font-size="12.8" text-anchor="end">10<tspan dy="-5.6" font-size="9.3">-3</tspan></text>
<text transform="translate(300,274.8) rotate(-90)" x="0.9" y="-2.2" font-size="9" style="stroke-width:0.4px">|</text>
<text transform="translate(300,274.8) rotate(-90)" x="3.1" y="0" font-size="13" font-style="italic">S</text>
<text transform="translate(300,274.8) rotate(-90)" x="11.7" y="-2.2" font-size="9" style="stroke-width:0.4px">|</text>
<line x1="335.53" y1="308.4" x2="335.53" y2="361.9" stroke="#e3e3e3" stroke-width="0.8"/>
<line x1="386.15" y1="308.4" x2="386.15" y2="361.9" stroke="#e3e3e3" stroke-width="0.8"/>
<line x1="436.77" y1="308.4" x2="436.77" y2="361.9" stroke="#e3e3e3" stroke-width="0.8"/>
<line x1="487.38" y1="308.4" x2="487.38" y2="361.9" stroke="#e3e3e3" stroke-width="0.8"/>
<line x1="538" y1="308.4" x2="538" y2="361.9" stroke="#e3e3e3" stroke-width="0.8"/>
<line x1="333" y1="311.44" x2="538" y2="311.44" stroke="#e3e3e3" stroke-width="0.8"/>
<line x1="333" y1="321.53" x2="538" y2="321.53" stroke="#e3e3e3" stroke-width="0.8"/>
<line x1="333" y1="331.62" x2="538" y2="331.62" stroke="#e3e3e3" stroke-width="0.8"/>
<line x1="333" y1="341.72" x2="538" y2="341.72" stroke="#e3e3e3" stroke-width="0.8"/>
<line x1="333" y1="351.81" x2="538" y2="351.81" stroke="#e3e3e3" stroke-width="0.8"/>
<rect x="505.68" y="361.1" width="1.95" height="0.8" fill="#000"/>
<rect x="333" y="308.4" width="205" height="53.5" fill="none" stroke="#262626" stroke-width="1.0"/>
<line x1="335.53" y1="361.9" x2="335.53" y2="359.9" stroke="#262626" stroke-width="0.8"/>
<line x1="335.53" y1="308.4" x2="335.53" y2="310.4" stroke="#262626" stroke-width="0.8"/>
<line x1="386.15" y1="361.9" x2="386.15" y2="359.9" stroke="#262626" stroke-width="0.8"/>
<line x1="386.15" y1="308.4" x2="386.15" y2="310.4" stroke="#262626" stroke-width="0.8"/>
<line x1="436.77" y1="361.9" x2="436.77" y2="359.9" stroke="#262626" stroke-width="0.8"/>
<line x1="436.77" y1="308.4" x2="436.77" y2="310.4" stroke="#262626" stroke-width="0.8"/>
<line x1="487.38" y1="361.9" x2="487.38" y2="359.9" stroke="#262626" stroke-width="0.8"/>
<line x1="487.38" y1="308.4" x2="487.38" y2="310.4" stroke="#262626" stroke-width="0.8"/>
<line x1="538" y1="361.9" x2="538" y2="359.9" stroke="#262626" stroke-width="0.8"/>
<line x1="538" y1="308.4" x2="538" y2="310.4" stroke="#262626" stroke-width="0.8"/>
<line x1="333" y1="311.44" x2="335.0" y2="311.44" stroke="#262626" stroke-width="0.8"/>
<line x1="538" y1="311.44" x2="536.0" y2="311.44" stroke="#262626" stroke-width="0.8"/>
<line x1="333" y1="321.53" x2="335.0" y2="321.53" stroke="#262626" stroke-width="0.8"/>
<line x1="538" y1="321.53" x2="536.0" y2="321.53" stroke="#262626" stroke-width="0.8"/>
<line x1="333" y1="331.62" x2="335.0" y2="331.62" stroke="#262626" stroke-width="0.8"/>
<line x1="538" y1="331.62" x2="536.0" y2="331.62" stroke="#262626" stroke-width="0.8"/>
<line x1="333" y1="341.72" x2="335.0" y2="341.72" stroke="#262626" stroke-width="0.8"/>
<line x1="538" y1="341.72" x2="536.0" y2="341.72" stroke="#262626" stroke-width="0.8"/>
<line x1="333" y1="351.81" x2="335.0" y2="351.81" stroke="#262626" stroke-width="0.8"/>
<line x1="538" y1="351.81" x2="536.0" y2="351.81" stroke="#262626" stroke-width="0.8"/>
<text x="327.5" y="317.74" font-size="12.8" text-anchor="end">10<tspan dy="-5.6" font-size="9.3">0</tspan></text>
<text x="327.5" y="337.92" font-size="12.8" text-anchor="end">10<tspan dy="-5.6" font-size="9.3">-2</tspan></text>
<text x="327.5" y="358.11" font-size="12.8" text-anchor="end">10<tspan dy="-5.6" font-size="9.3">-4</tspan></text>
<text transform="translate(300,350.8) rotate(-90)" x="0.4" y="-2.2" font-size="9" style="stroke-width:0.4px">|</text>
<text transform="translate(300,350.8) rotate(-90)" x="3.2" y="0" font-size="15.5" style="stroke:none">Δ</text>
<text transform="translate(300,350.8) rotate(-90)" x="19" y="0" font-size="13" font-style="italic">S</text>
<text transform="translate(300,350.8) rotate(-90)" x="27.6" y="-2.2" font-size="9" style="stroke-width:0.4px">|</text>
<text x="335.53" y="379.4" font-size="12.5" text-anchor="middle">0</text>
<text x="386.15" y="379.4" font-size="12.5" text-anchor="middle">20</text>
<text x="436.77" y="379.4" font-size="12.5" text-anchor="middle">40</text>
<text x="487.38" y="379.4" font-size="12.5" text-anchor="middle">60</text>
<text x="538" y="379.4" font-size="12.5" text-anchor="middle">80</text>
</svg>
</body></html>
